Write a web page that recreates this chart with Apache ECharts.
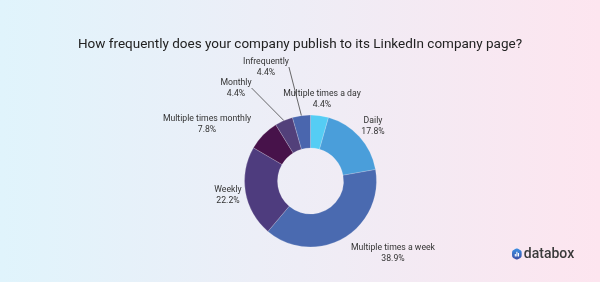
<!DOCTYPE html>
<html>
<head>
<meta charset="utf-8">
<script src="https://cdn.jsdelivr.net/npm/echarts@6/dist/echarts.min.js"></script>
<style>
  html, body { margin: 0; padding: 0; }
  #main {
    width: 600px; height: 282px;
    background: linear-gradient(to right, #e0f4fc 0%, #eeedf6 50%, #fde5ef 100%);
  }
</style>
</head>
<body>
<div id="main"></div>
<script>
const categories = ['Multiple times a day', 'Daily', 'Multiple times a week', 'Weekly',
  'Multiple times monthly', 'Monthly', 'Infrequently'];
const shares = [4.4, 17.8, 38.9, 22.2, 7.8, 4.4, 4.4];
const sliceColors = ['#55cdf4', '#4a9eda', '#4a6ab0', '#4e3c7e', '#47124a', '#52407a', '#4a66ae'];
// where each label block sits (center, px)
const labelPos = [[322, 99], [373, 126], [393, 253], [228, 195], [207, 124], [236, 88], [266, 67]];
const withLine = [false, false, false, false, false, true, true];

const chart = echarts.init(document.getElementById('main'), null, { renderer: 'canvas' });

const pieData = categories.map((name, i) => ({
  name,
  value: shares[i],
  itemStyle: { color: sliceColors[i] },
  labelLine: { show: withLine[i] }
}));

const option = {
  backgroundColor: 'transparent',
  animation: false,
  textStyle: { fontFamily: 'Roboto' },
  title: {
    text: 'How frequently does your company publish to its LinkedIn company page?',
    left: 'center',
    top: 33,
    textStyle: { fontSize: 13.5, fontWeight: 'normal', color: '#222', fontFamily: 'Roboto' }
  },
  series: [{
    type: 'pie',
    center: [310.5, 181],
    radius: [33, 66],
    startAngle: 90,
    clockwise: true,
    data: pieData,
    itemStyle: { borderColor: 'rgba(255,255,255,0.3)', borderWidth: 0.6 },
    label: {
      show: true,
      formatter: '{b}\n{c}%',
      fontSize: 8.7,
      lineHeight: 11,
      color: '#333',
      fontFamily: 'Roboto'
    },
    labelLine: {
      length: 10,
      length2: 0,
      lineStyle: { color: '#444', width: 0.8 }
    },
    labelLayout: function (p) {
      const pos = labelPos[p.dataIndex];
      return { x: pos[0], y: pos[1], align: 'center', verticalAlign: 'middle' };
    }
  }],
  graphic: [{
    type: 'group',
    left: 512,
    top: 247,
    children: [
      {
        type: 'polygon',
        shape: { points: [[4.5, 0], [9, 2.6], [9, 8.4], [4.5, 11], [0, 8.4], [0, 2.6]], smooth: 0.2 },
        style: {
          fill: new echarts.graphic.LinearGradient(0, 0, 0, 1, [
            { offset: 0, color: '#3b8ee3' },
            { offset: 1, color: '#3c4fa6' }
          ])
        }
      },
      { type: 'rect', shape: { x: 2.4, y: 5.5, width: 1.1, height: 2.5 }, style: { fill: '#fff' } },
      { type: 'rect', shape: { x: 4, y: 3.3, width: 1.1, height: 4.7 }, style: { fill: '#fff' } },
      { type: 'rect', shape: { x: 5.6, y: 4.5, width: 1.1, height: 3.5 }, style: { fill: '#fff' } },
      {
        type: 'text',
        x: 11.5,
        y: -1.5,
        style: { text: 'databox', fontSize: 14, fontWeight: 500, fill: '#3a3a3a', fontFamily: 'Roboto' }
      }
    ]
  }]
};

chart.setOption(option);
</script>
</body>
</html>
